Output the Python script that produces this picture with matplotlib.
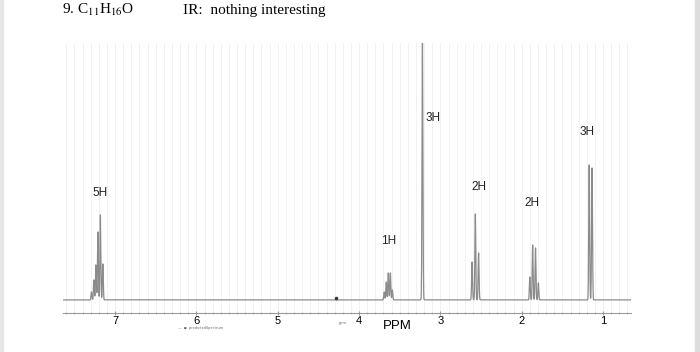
import numpy as np
import matplotlib.pyplot as plt
from matplotlib.ticker import MultipleLocator

# peak lines: (ppm, relative height)
arom_ppm = [7.29, 7.26, 7.235, 7.21, 7.18, 7.15]
arom_h = [8, 20, 35, 68, 85, 36]
ch_ppm = [3.69, 3.665, 3.64, 3.615, 3.59]
ch_h = [8, 18, 27, 27, 10]
ome_ppm = [3.22]
ome_h = [262]
ch2a_ppm = [2.61, 2.57, 2.53]
ch2a_h = [38, 86, 47]
ch2b_ppm = [1.90, 1.865, 1.83, 1.795]
ch2b_h = [23, 55, 52, 17]
ch3_ppm = [1.17, 1.135]
ch3_h = [135, 132]

labels = ['5H', '1H', '3H', '2H', '2H', '3H']
label_ppm = [7.18, 3.64, 3.09, 2.53, 1.87, 1.20]
label_y = [107, 59, 182, 113, 97, 168]

ppm_all = arom_ppm + ch_ppm + ome_ppm + ch2a_ppm + ch2b_ppm + ch3_ppm
h_all = arom_h + ch_h + ome_h + ch2a_h + ch2b_h + ch3_h

x = np.arange(0.6, 7.7, 0.0004)
y = np.zeros_like(x)
sig = 0.0055
for p, h in zip(ppm_all, h_all):
    y += h * np.exp(-0.5 * ((x - p) / sig)**2)

fig = plt.figure(figsize=(7, 3.52), dpi=100)
ax = fig.add_axes([0.09, 0.111, 0.811, 0.767])

ax.plot(x, y, color='#8c8c8c', lw=0.9)
ax.plot([4.28], [2], 'o', color='#333333', ms=1.5)
for t, p, ly in zip(labels, label_ppm, label_y):
    ax.text(p, ly, t, ha='center', va='center', fontsize=8.5,
            family='Liberation Sans', color='#222222')

ax.set_xlim(7.64, 0.66)
ax.set_ylim(-13, 257)
ax.xaxis.set_major_locator(MultipleLocator(1))
ax.xaxis.set_minor_locator(MultipleLocator(0.1))
ax.grid(True, which='both', axis='x', color='#f2f2f2', lw=0.7)
ax.set_yticks([])
for s in ['top', 'left', 'right']:
    ax.spines[s].set_visible(False)
ax.spines['bottom'].set_color('#999999')
ax.spines['bottom'].set_linewidth(0.8)
ax.tick_params(axis='x', which='major', length=3, direction='inout',
               color='#999999', labelsize=8, pad=1)
ax.tick_params(axis='x', which='minor', length=2, direction='inout',
               color='#bbbbbb')
for lab in ax.get_xticklabels():
    lab.set_family('Liberation Sans')

fig.text(397 / 700, 1 - 326 / 352, 'PPM', ha='center', va='center',
         fontsize=9.5, family='Liberation Sans')
fig.text(343 / 700, 1 - 323 / 352, 'ppm', ha='center', va='center',
         fontsize=2.5, color='#666666')
fig.text(178 / 700, 1 - 328 / 352, '—  ●  predictedSpectrum', ha='left',
         va='center', fontsize=2.5, color='#666666')

plt.rcParams['mathtext.fontset'] = 'stix'
fig.text(62 / 700, 1 - 14 / 352, r'9. C$_{11}$H$_{16}$O', ha='left',
         va='baseline', fontsize=11, family='Liberation Serif')
fig.text(183 / 700, 1 - 14 / 352, 'IR:  nothing interesting', ha='left',
         va='baseline', fontsize=11, family='Liberation Serif')

fig.patches.append(plt.Rectangle((0, 0), 3 / 700, 1, transform=fig.transFigure,
                                 color='#e6e6e6', zorder=0))
fig.patches.append(plt.Rectangle((695 / 700, 0), 5 / 700, 1,
                                 transform=fig.transFigure,
                                 color='#dddddd', zorder=0))

fig.savefig('out.png', dpi=100)
